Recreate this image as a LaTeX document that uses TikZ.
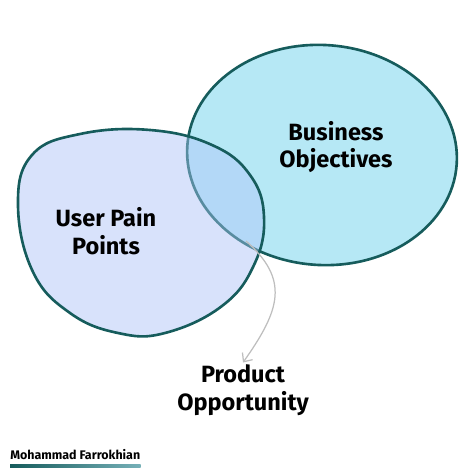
\documentclass[tikz,border=0pt]{standalone}
\usepackage{fontspec}
\setmainfont{Fira Sans}
\usepackage{tikz}
\usetikzlibrary{arrows.meta,positioning}

\begin{document}
\begin{tikzpicture}[x=0.0254cm,y=-0.0254cm,
  lbl/.style={font=\bfseries\fontsize{17}{20}\selectfont,align=center,text=black}]
\definecolor{edgeColor}{RGB}{22,92,92}
\definecolor{edgeInColor}{RGB}{88,140,160}
\definecolor{userColor}{RGB}{216,226,251}
\definecolor{bizColor}{RGB}{182,232,245}
\definecolor{overlapColor}{RGB}{179,216,247}
\definecolor{arrowColor}{RGB}{190,190,190}
\useasboundingbox (0,0) rectangle (474,474);
\def\bizpath{(322,155) ellipse [x radius=135,y radius=110,rotate=-4]}
\def\userpath{plot[smooth cycle,tension=0.7] coordinates {(18,205) (32,155) (80,134) (150,130) (212,145) (250,175) (264,217) (254,265) (222,306) (165,333) (118,333) (70,313) (33,272)}}
% sets
\fill[bizColor] \bizpath;
\draw[edgeColor,line width=1.9pt] \bizpath;
\fill[userColor] \userpath;
\begin{scope}
  \clip \userpath;
  \fill[overlapColor] \bizpath;
  \draw[edgeInColor,line width=1.9pt] \bizpath;
\end{scope}
\draw[edgeColor,line width=1.9pt] \userpath;
% labels
\node[lbl] (biz) at (336,147) {Business\\Objectives};
\node[lbl] (user) at (106,231) {User Pain\\Points};
\node[lbl] (prod) at (243,390) {Product\\Opportunity};
\coordinate (ov) at (246,241);
\draw[arrowColor,line width=0.9pt,-{Straight Barb[length=5pt,width=9pt]}] (ov) .. controls (290,280) and (280,310) .. ([yshift=-2]prod.north);
% signature
\node[font=\bfseries\fontsize{9}{11}\selectfont,anchor=west,inner sep=0pt] (sig) at (10,455) {Mohammad Farrokhian};
\shade[left color=edgeColor,right color=edgeColor!40!bizColor] ([yshift=-3]sig.south west) rectangle ([yshift=-4.8]sig.south east);
\end{tikzpicture}
\end{document}
